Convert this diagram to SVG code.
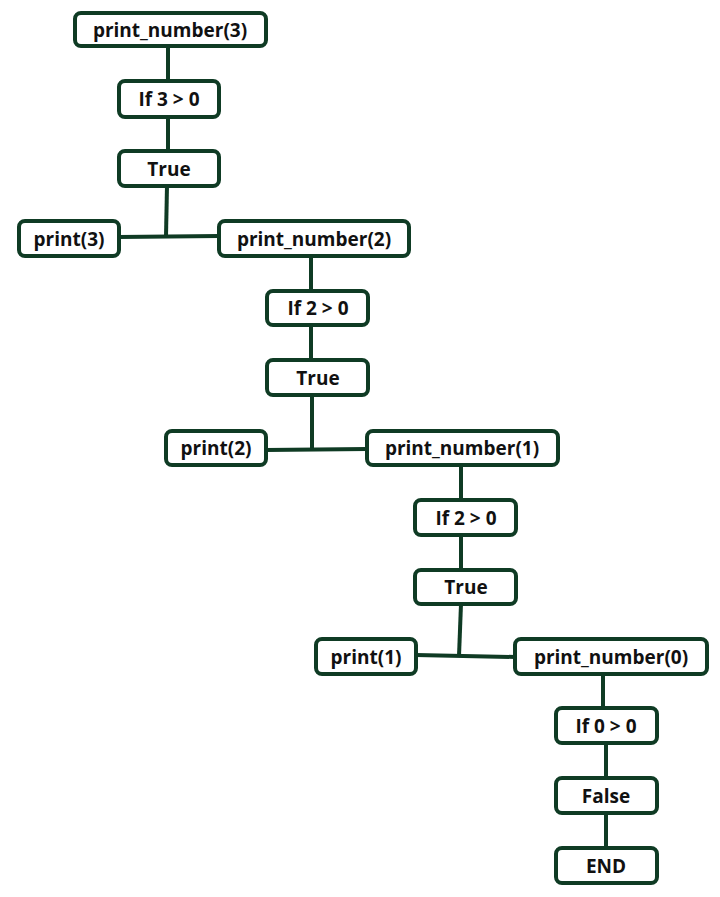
<svg xmlns="http://www.w3.org/2000/svg" width="720" height="897" viewBox="0 0 720 897">
<style>
rect{fill:#fff;stroke:#0f3b24;stroke-width:4}
line{stroke:#0f3b24;stroke-width:4}
text{font-family:"Open Sans","Liberation Sans",sans-serif;font-weight:bold;font-size:19px;fill:#111;text-anchor:middle;dominant-baseline:central}
</style>
<rect width="720" height="897" style="fill:#fff;stroke:none"/>
<g id="connectors">
<line x1="168" y1="46" x2="168" y2="81"/><line x1="168" y1="117" x2="168" y2="151"/><line x1="167" y1="186" x2="166" y2="236"/><line x1="119" y1="237" x2="219" y2="236"/>
<line x1="311" y1="256" x2="311" y2="291"/><line x1="311" y1="325" x2="311" y2="360"/><line x1="312" y1="395" x2="312" y2="450"/><line x1="266" y1="450" x2="367" y2="449"/>
<line x1="461" y1="465" x2="461" y2="500"/><line x1="461" y1="535" x2="461" y2="570"/><line x1="461" y1="604" x2="459" y2="656"/><line x1="416" y1="655" x2="515" y2="657"/>
<line x1="603" y1="674" x2="603" y2="708"/><line x1="606" y1="743" x2="606" y2="778"/><line x1="606" y1="813" x2="606" y2="848"/>
</g>
<g id="pn3"><rect x="75" y="13" width="191" height="33" rx="6"/><text x="170" y="30">print_number(3)</text></g>
<g id="if3"><rect x="119" y="81" width="100" height="36" rx="6"/><text x="169" y="99">If 3 &gt; 0</text></g>
<g id="true3"><rect x="119" y="151" width="100" height="35" rx="6"/><text x="169" y="169">True</text></g>
<g id="print3"><rect x="19" y="221" width="100" height="35" rx="6"/><text x="69" y="239">print(3)</text></g>
<g id="pn2"><rect x="219" y="221" width="190" height="35" rx="6"/><text x="314" y="239">print_number(2)</text></g>
<g id="if2"><rect x="267" y="291" width="101" height="34" rx="6"/><text x="318" y="308">If 2 &gt; 0</text></g>
<g id="true2"><rect x="267" y="360" width="101" height="35" rx="6"/><text x="318" y="378">True</text></g>
<g id="print2"><rect x="166" y="431" width="100" height="34" rx="6"/><text x="216" y="448">print(2)</text></g>
<g id="pn1"><rect x="367" y="431" width="191" height="34" rx="6"/><text x="462" y="448">print_number(1)</text></g>
<g id="if1"><rect x="415" y="500" width="101" height="35" rx="6"/><text x="466" y="518">If 2 &gt; 0</text></g>
<g id="true1"><rect x="415" y="570" width="101" height="34" rx="6"/><text x="466" y="587">True</text></g>
<g id="print1"><rect x="316" y="639" width="100" height="35" rx="6"/><text x="366" y="657">print(1)</text></g>
<g id="pn0"><rect x="515" y="639" width="192" height="35" rx="6"/><text x="611" y="657">print_number(0)</text></g>
<g id="if0"><rect x="556" y="708" width="101" height="35" rx="6"/><text x="606" y="726">If 0 &gt; 0</text></g>
<g id="false0"><rect x="556" y="778" width="101" height="35" rx="6"/><text x="606" y="796">False</text></g>
<g id="end"><rect x="556" y="848" width="101" height="35" rx="6"/><text x="606" y="866">END</text></g>
</svg>
